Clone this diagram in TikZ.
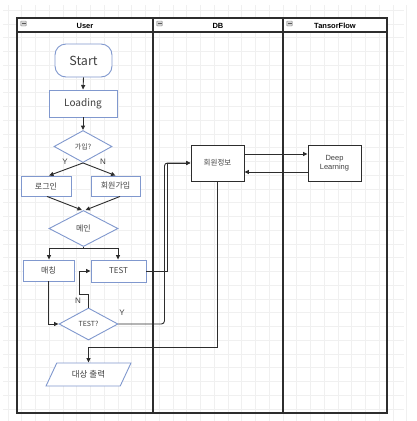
\documentclass[tikz,border=0pt]{standalone}
\usepackage{fontspec}
\setmainfont{Noto Sans CJK KR}
\newfontfamily\arialf{Liberation Sans}
\usetikzlibrary{shapes.geometric,arrows.meta}
\definecolor{bluebd}{RGB}{128,152,206}
\definecolor{txt}{RGB}{64,64,64}
\definecolor{ln}{RGB}{45,45,45}
\definecolor{gridc}{RGB}{240,240,240}
\tikzset{
  ubox/.style={draw=bluebd,line width=0.9pt,fill=white,text=txt,inner sep=0pt,font=\fontsize{8}{9}\selectfont},
  udia/.style={ubox,diamond,aspect=1.8},
  dbox/.style={draw=ln,line width=0.9pt,fill=white,text=txt,inner sep=0pt,font=\fontsize{7.5}{8.5}\selectfont},
  conn/.style={draw=ln,line width=0.9pt,-{Triangle[length=4.5pt,width=4pt]}},
  lanebd/.style={draw=ln,line width=1.3pt},
  hdr/.style={font=\arialf\bfseries\fontsize{7.5}{8}\selectfont,text=black,inner sep=0pt},
  lbl/.style={font=\arialf\fontsize{8}{9}\selectfont,text=txt,inner sep=0pt},
  icon/.style={draw=gray!80,fill=gray!35,rounded corners=1pt,minimum width=6pt,minimum height=5pt,inner sep=0pt,line width=0.4pt}
}
\begin{document}
\begin{tikzpicture}[x=1pt,y=-1pt]
\useasboundingbox (0,0) rectangle (416,421);
\fill[white] (0,0) rectangle (416,421);
% grid
\foreach \i in {0,...,29} {\draw[gridc,line width=0.5pt] ({3+4.75+13.75*\i},5) -- ({3+4.75+13.75*\i},421);}
\foreach \j in {0,...,30} {\draw[gridc,line width=0.5pt] (3,{10+13.75*\j-13.75}) -- (404,{10+13.75*\j-13.75});}
% pool
\draw[lanebd,fill=white] (17,18) rectangle (387,32);
\draw[lanebd] (17,18) rectangle (387,413);
\draw[lanebd] (153,18) -- (153,413);
\draw[lanebd] (283,18) -- (283,413);
\node[icon] (i1) at (23.5,23.5) {};
\node[icon] (i2) at (159.5,23.5) {};
\node[icon] (i3) at (289.5,23.5) {};
\draw[gray!70!black,line width=0.5pt] (21.5,23.5) -- (25.5,23.5) (157.5,23.5) -- (161.5,23.5) (287.5,23.5) -- (291.5,23.5);
\node[hdr] (h1) at (85,25.5) {User};
\node[hdr] (h2) at (218,25.5) {DB};
\node[hdr] (h3) at (335,25.5) {TansorFlow};
% user lane
\node[ubox,rounded corners=11pt,minimum width=57pt,minimum height=33pt,font=\fontsize{12.5}{14}\selectfont] (start) at (83.5,60.5) {Start};
\node[ubox,minimum width=68pt,minimum height=27pt,font=\fontsize{10}{12}\selectfont] (load) at (83,103.5) {Loading};
\node[udia,minimum width=58pt,minimum height=32pt,font=\fontsize{7}{8}\selectfont] (join) at (83,146.5) {가입?};
\node[ubox,minimum width=50pt,minimum height=20pt] (login) at (46,186) {로그인};
\node[ubox,minimum width=49pt,minimum height=20pt] (reg) at (115.5,186) {회원가입};
\node[udia,minimum width=69pt,minimum height=36pt] (main) at (83.5,228.5) {메인};
\node[ubox,minimum width=51pt,minimum height=21pt] (match) at (48.5,270.5) {매칭};
\node[ubox,minimum width=55pt,minimum height=22pt] (test) at (118.5,271) {TEST};
\node[udia,minimum width=59pt,minimum height=32pt,font=\fontsize{7}{8}\selectfont] (tq) at (88.5,324) {TEST?};
\node[ubox,trapezium,trapezium left angle=54,trapezium right angle=126,trapezium stretches=true,minimum width=85pt,minimum height=23pt,font=\fontsize{8.5}{10}\selectfont] (out) at (88.5,374.5) {대상 출력};
% DB and TF
\node[dbox,minimum width=53pt,minimum height=36pt] (info) at (217.5,163) {회원정보};
\node[dbox,minimum width=53pt,minimum height=36pt,font=\arialf\fontsize{7.5}{8.5}\selectfont,align=center] (dl) at (334.5,163) {Deep\\Learning};
% connectors
\draw[conn] (start.south) -- (load.north);
\draw[conn] (load.south) -- (join.north);
\draw[conn] (join.south) -- ([xshift=3pt]login.north);
\draw[conn] (join.south) -- ([xshift=0pt]reg.north);
\node[lbl] (ly) at (65,162) {Y};
\node[lbl] (ln) at (103,162) {N};
\draw[conn] ([xshift=1pt]login.south) -- ([xshift=-1.5pt]main.north);
\draw[conn] ([xshift=4.5pt]reg.south) -- ([xshift=2pt]main.north);
\draw[conn] (main.south) -- ++(0,1.5) -| ([xshift=0.5pt]match.north);
\draw[conn] (main.south) -- ++(0,1.5) -| ([xshift=-0.5pt]test.north);
\draw[conn] (match.south) |- (tq.west);
\draw[conn] (tq.north) -- ++(0,-13) -- ++(-9,0) |- (test.west);
\node[lbl] (lnn) at (78,300.5) {N};
\node[lbl] (lyy) at (122,313) {Y};
\draw[conn] (test.east) -- ++(21,0) |- (info.west);
\draw[conn,rounded corners=3pt] (tq.east) -- ++(46,0) |- (info.west);
\draw[conn] ([yshift=9pt]info.east) -- ([yshift=9pt]dl.west);
\draw[conn] ([yshift=-9pt]dl.west) -- ([yshift=-9pt]info.east);
\draw[conn] (info.south) -- ++(0,166) -| (out.north);
\end{tikzpicture}
\end{document}
